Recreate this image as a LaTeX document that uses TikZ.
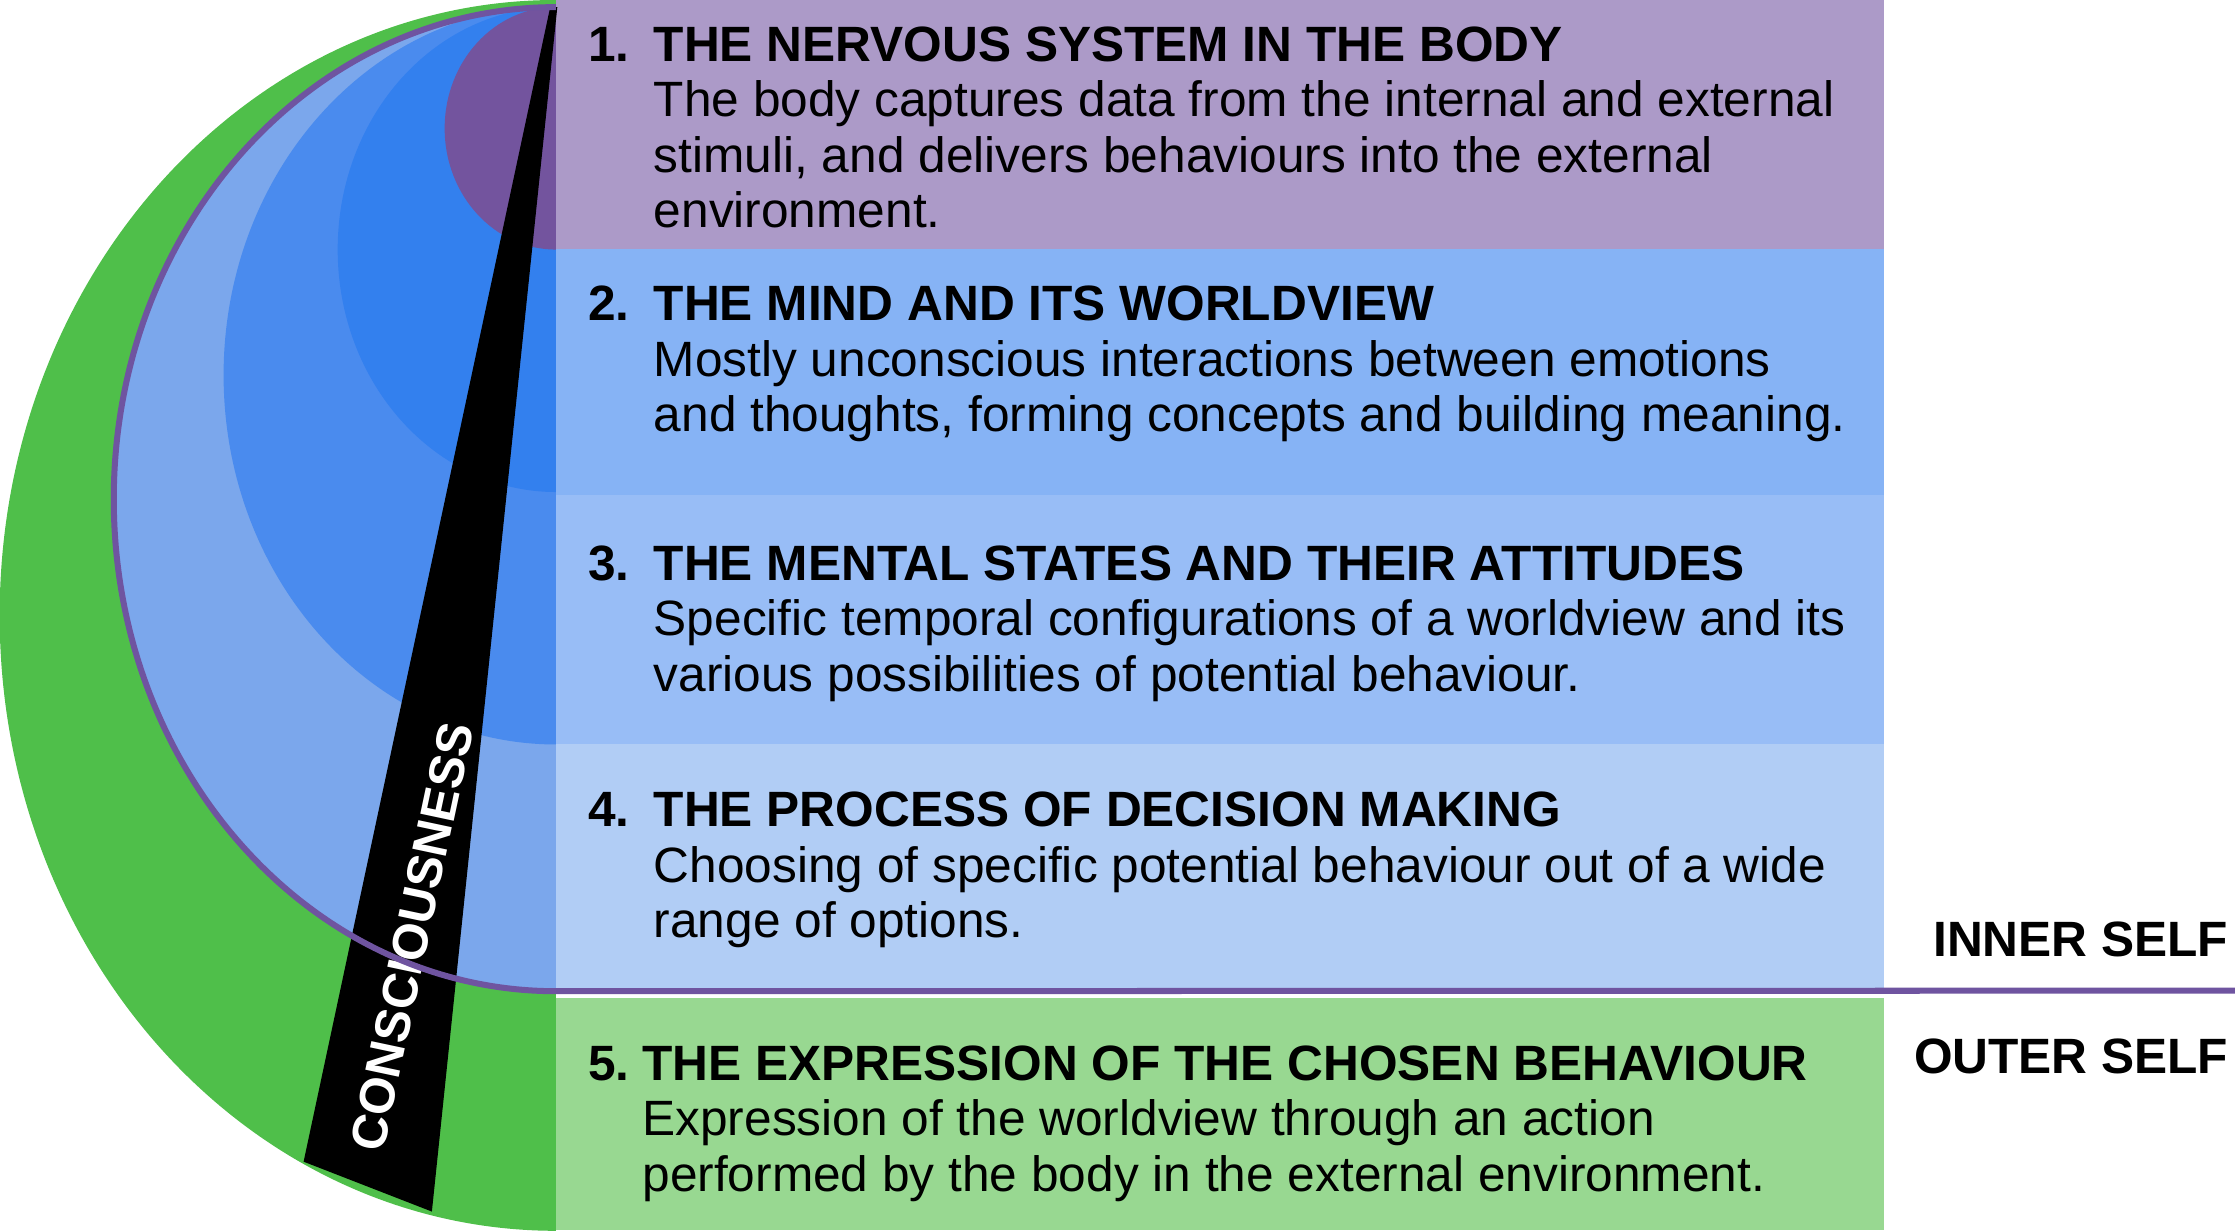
\documentclass[tikz,border=0pt]{standalone}
\usepackage{fontspec}
\setmainfont{Liberation Sans}
\usetikzlibrary{positioning}
\definecolor{lineviolet}{HTML}{6F54A0}
\definecolor{outergreen}{HTML}{4FBF4A}
\definecolor{layerfour}{HTML}{7BA7EC}
\definecolor{layerthree}{HTML}{4A8BEE}
\definecolor{layertwo}{HTML}{3380EE}
\definecolor{layerone}{HTML}{73549E}
\definecolor{boxone}{HTML}{AC9AC8}
\definecolor{boxtwo}{HTML}{86B3F5}
\definecolor{boxthree}{HTML}{98BDF6}
\definecolor{boxfour}{HTML}{B1CDF5}
\definecolor{boxfive}{HTML}{98D891}
\tikzset{
  numtext/.style={anchor=base west,inner sep=0pt,font=\fontsize{9.9}{11.1}\selectfont\bfseries},
  bodytext/.style={anchor=north west,inner sep=0pt,align=left,font=\fontsize{9.9}{11.06}\selectfont},
  sidetext/.style={anchor=base east,inner sep=0pt,font=\fontsize{9.9}{11.1}\selectfont\bfseries}
}
\begin{document}
\begin{tikzpicture}[x=0.01cm,y=0.01cm]
		\useasboundingbox (0,0) rectangle (1568,863);
		% half discs
		\fill [outergreen] (390,863) arc [start angle=90,end angle=270,x radius=3.9cm,y radius=4.315cm] -- cycle;
		\fill [layerfour] (390,858) arc [start angle=90,end angle=270,x radius=3.1cm,y radius=3.45cm] -- cycle;
		\fill [layerthree] (390,859) arc [start angle=90,end angle=270,x radius=2.33cm,y radius=2.59cm] -- cycle;
		\fill [layertwo] (390,858) arc [start angle=90,end angle=270,x radius=1.53cm,y radius=1.7cm] -- cycle;
		\fill [layerone] (390,858) arc [start angle=90,end angle=270,x radius=0.78cm,y radius=0.85cm] -- cycle;
		% boxes
		\fill [boxone] (390,688) rectangle (1322,863);
		\fill [boxtwo] (390,516) rectangle (1322,688);
		\fill [boxthree] (390,341) rectangle (1322,516);
		\fill [boxfour] (390,168) rectangle (1322,341);
		\fill [boxfive] (390,0) rectangle (1322,163);
		% wedge
		\fill [black] (386,858) -- (391,858) -- (303,13) -- (213,48) -- cycle;
		\node [rotate=78,text=white,inner sep=0pt,font=\fontsize{9.9}{11.1}\selectfont\bfseries] (conscious) at (289,206) {CONSCIOUSNESS};
		\draw [lineviolet,line width=1.2pt] (390,858) arc [start angle=90,end angle=270,x radius=3.1cm,y radius=3.45cm] -- (1568,168);
		% texts
		\node [numtext] (numone) at (412,820) {1.};
		\node [numtext] (titleone) at (458,820) {THE NERVOUS SYSTEM IN THE BODY};
		\node [bodytext] (bodyone) at (458,807) {The body captures data from the internal and external\\stimuli, and delivers behaviours into the external\\environment.};
		\node [numtext] (numtwo) at (412,638) {2.};
		\node [numtext] (titletwo) at (458,638) {THE MIND AND ITS WORLDVIEW};
		\node [bodytext] (bodytwo) at (458,625) {Mostly unconscious interactions between emotions\\and thoughts, forming concepts and building meaning.};
		\node [numtext] (numthree) at (412,456) {3.};
		\node [numtext] (titlethree) at (458,456) {THE MENTAL STATES AND THEIR ATTITUDES};
		\node [bodytext] (bodythree) at (458,443) {Specific temporal configurations of a worldview and its\\various possibilities of potential behaviour.};
		\node [numtext] (numfour) at (412,283) {4.};
		\node [numtext] (titlefour) at (458,283) {THE PROCESS OF DECISION MAKING};
		\node [bodytext] (bodyfour) at (458,270) {Choosing of specific potential behaviour out of a wide\\range of options.};
		\node [numtext] (numfive) at (412,105) {5.};
		\node [numtext] (titlefive) at (450,105) {THE EXPRESSION OF THE CHOSEN BEHAVIOUR};
		\node [bodytext] (bodyfive) at (450,92) {Expression of the worldview through an action\\performed by the body in the external environment.};
		\node [sidetext] (inner) at (1564,192) {INNER SELF};
		\node [sidetext] (outer) at (1564,110) {OUTER SELF};
\end{tikzpicture}
\end{document}
